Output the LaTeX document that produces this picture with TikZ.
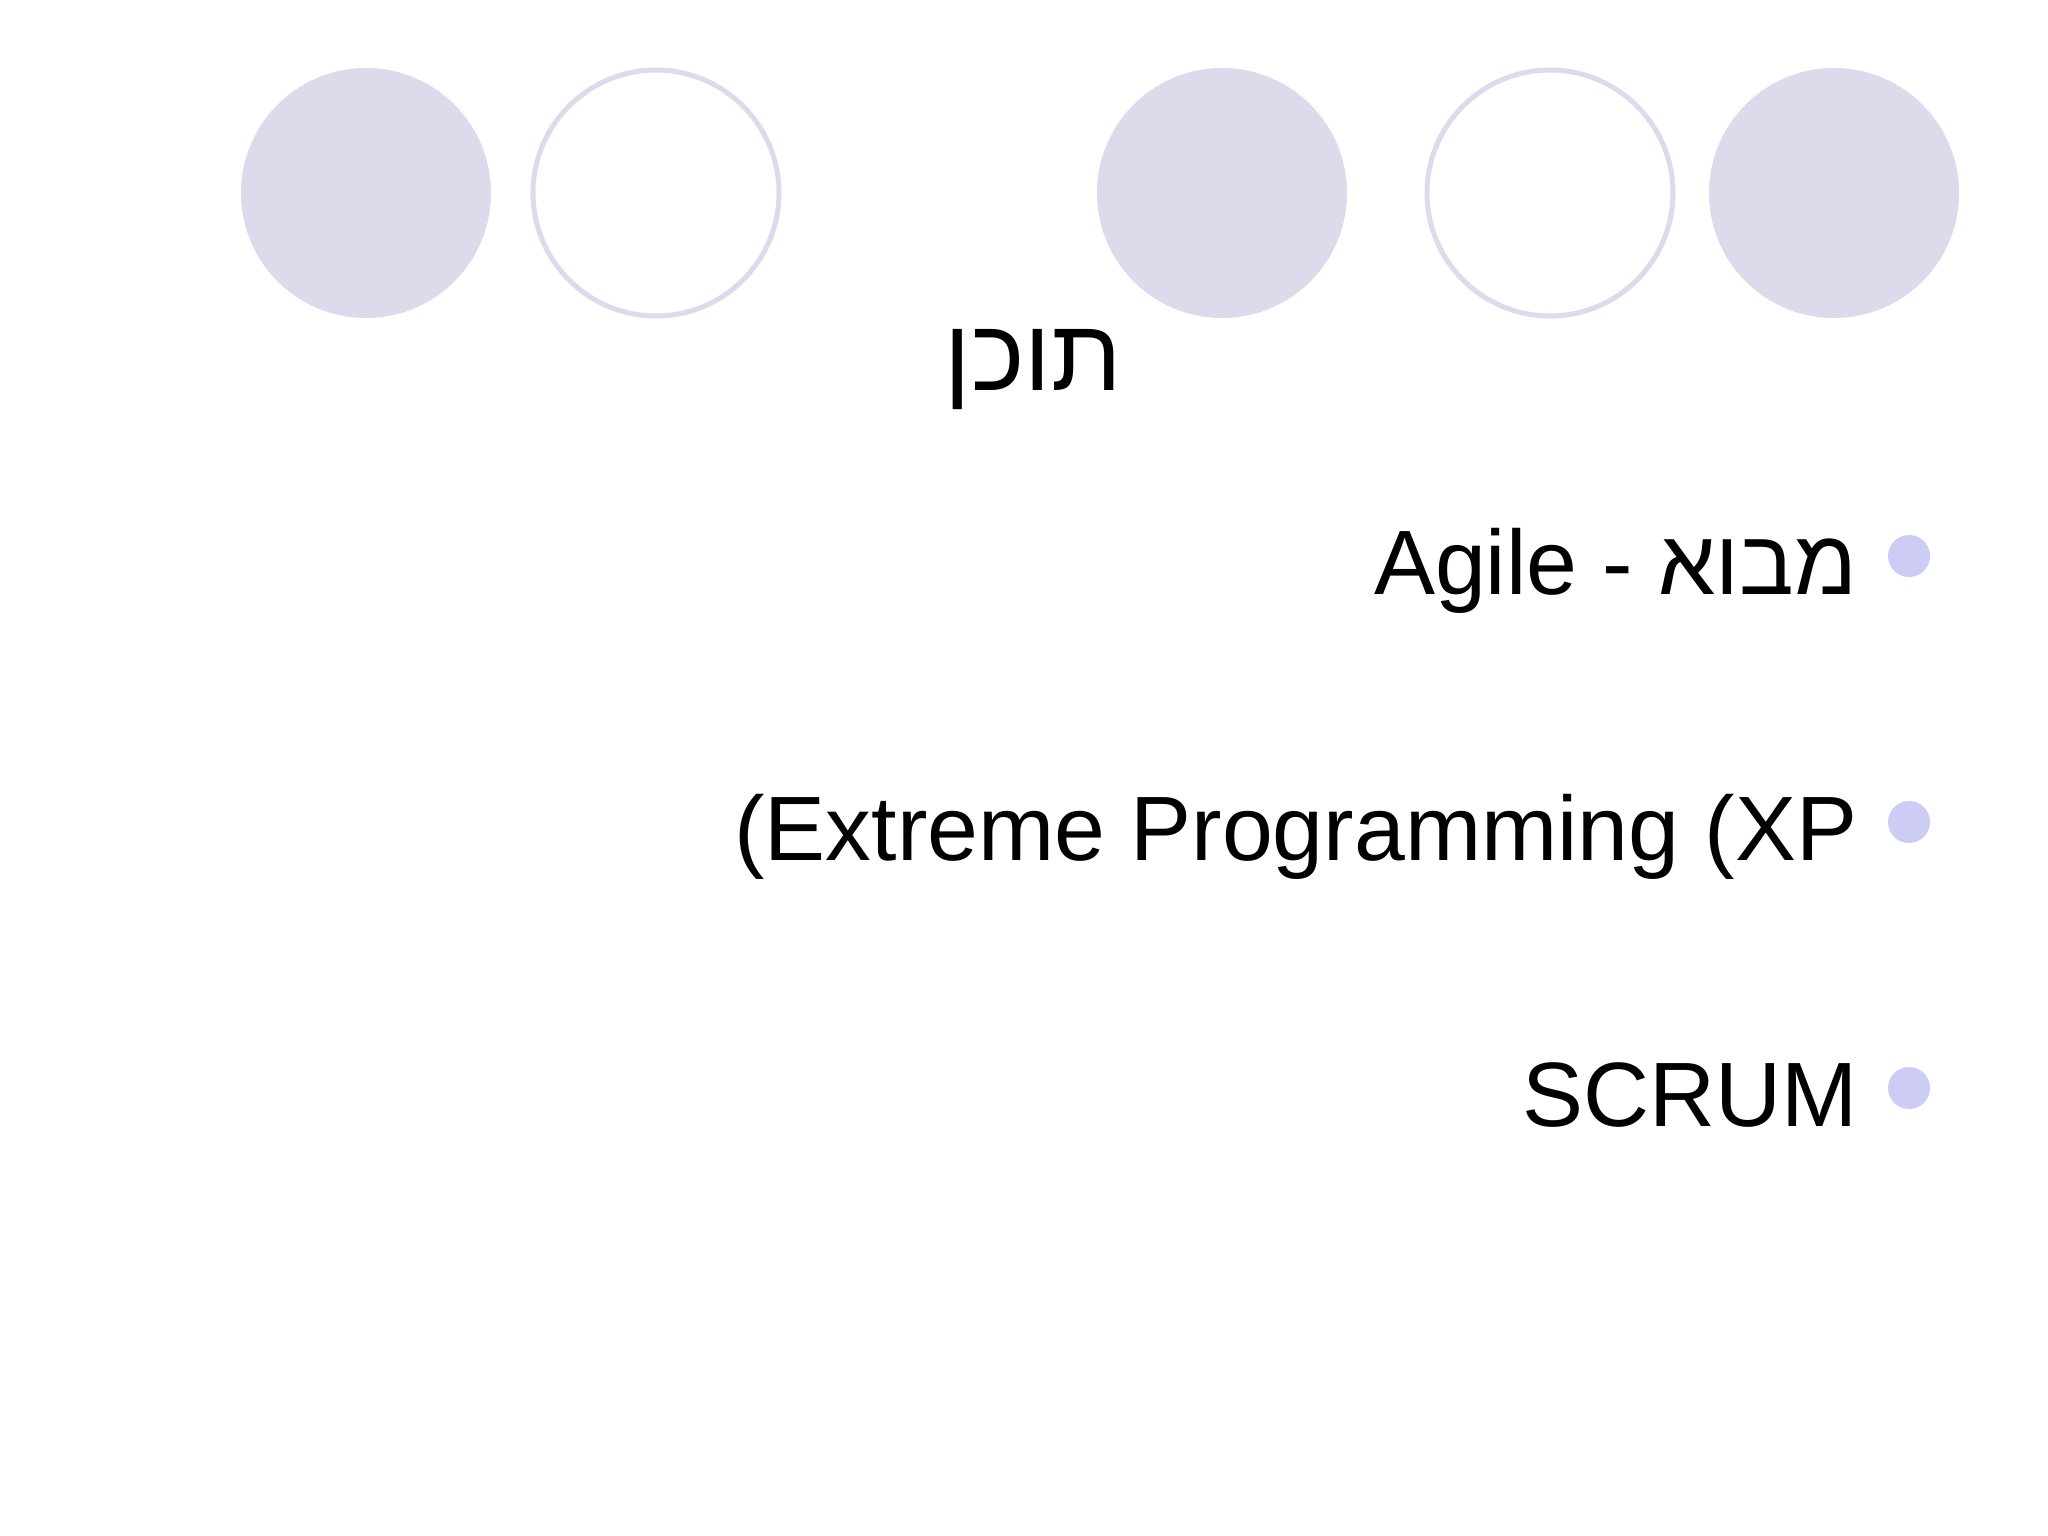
\documentclass[tikz,border=0pt]{standalone}
\usepackage{fontspec}
\setmainfont{Liberation Sans}
\TeXXeTstate=1
\definecolor{circfill}{HTML}{DCDAEB}
\definecolor{bul}{HTML}{CCCCF5}
\begin{document}
\begin{tikzpicture}[x=0.01cm,y=-0.01cm,
  full/.style={fill=circfill,draw=none},
  ring/.style={draw=circfill,line width=0.05cm,fill=white},
  bulletdot/.style={circle,fill=bul,minimum size=0.42cm,inner sep=0},
  item/.style={anchor=base east,font=\fontsize{26}{31}\selectfont,inner sep=0}]
\useasboundingbox (0,0) rectangle (2048,1536);
\fill[white] (0,0) rectangle (2048,1536);
\filldraw[full] (366,193) circle (125);
\filldraw[ring] (656,193) circle (123);
\filldraw[full] (1222,193) circle (125);
\filldraw[ring] (1550,193) circle (123);
\filldraw[full] (1834,193) circle (125);
\node[font=\fontsize{29}{34}\selectfont] (title) at (1033,370) {\beginR תוכן\endR};
\node[bulletdot] (b1) at (1909,556) {};
\node[bulletdot] (b2) at (1909,822) {};
\node[bulletdot] (b3) at (1909,1088) {};
\node[item] (t1) at (1858,594) {\beginR מבוא - \beginL Agile\endL\endR};
\node[item] (t2) at (1858,860) {(Extreme Programming (XP};
\node[item] (t3) at (1858,1126) {SCRUM};
\end{tikzpicture}
\end{document}
